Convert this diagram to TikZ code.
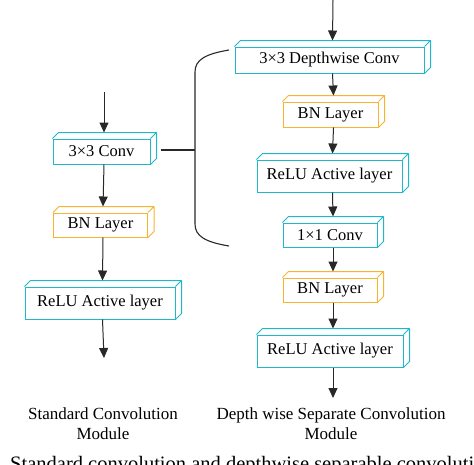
\documentclass[tikz,border=0pt]{standalone}
\usepackage{fontspec}
\setmainfont{Liberation Serif}
\usetikzlibrary{arrows.meta,calc}
\definecolor{convcyan}{RGB}{30,184,202}
\definecolor{bnorange}{RGB}{246,180,48}
\definecolor{linegray}{RGB}{40,40,40}
\tikzset{
	layer/.style={draw=#1, fill=white, line width=1pt, inner sep=0pt,
			minimum height=25pt, font=\fontsize{16.5}{18}\selectfont},
	flow/.style={-{Triangle[length=10pt,width=9pt]}, line width=1pt, draw=linegray},
	caption/.style={align=center, font=\fontsize{17}{20}\selectfont}
}
% top and right faces of a layer box
\newcommand{\boxdepth}[2]{%
	\draw[#2, line width=1pt, line join=round] (#1.north west) -- ++(6,-6)
	-- ($(#1.north east)+(6,-6)$) -- ($(#1.south east)+(6,-6)$) -- (#1.south east)
	(#1.north east) -- ++(6,-6);}

\begin{document}
\begin{tikzpicture}[x=1pt, y=-1pt]
	\useasboundingbox (0,0) rectangle (474,464);

	% Standard convolution module
	\coordinate (inL) at (104,92);
	\node[layer=convcyan, minimum width=97pt] (convL) at (101.5,151.5) {3×3 Conv};
	\node[layer=bnorange, minimum width=94pt, minimum height=24pt] (bnL) at (100.5,225) {BN Layer};
	\node[layer=convcyan, minimum width=150pt, minimum height=32pt] (reluL) at (100,303) {ReLU Active layer};
	\coordinate (outL) at (104,358);
	\boxdepth{convL}{convcyan}
	\boxdepth{bnL}{bnorange}
	\boxdepth{reluL}{convcyan}

	\draw[flow] (inL) -- ([xshift=2.5pt,yshift=6pt]convL.north);
	\draw[flow] ([xshift=2.5pt]convL.south) -- ([xshift=2.5pt,yshift=6pt]bnL.north);
	\draw[flow] ([xshift=2.5pt]bnL.south) -- ([xshift=2.5pt,yshift=6pt]reluL.north);
	\draw[flow] ([xshift=2.5pt]reluL.south) -- (outL);

	% Depth wise separate convolution module
	\coordinate (inR) at (333,0);
	\node[layer=convcyan, minimum width=189pt, minimum height=26pt] (dw) at (329.5,60) {3×3 Depthwise Conv};
	\node[layer=bnorange, minimum width=95pt] (bnR1) at (330.5,114.5) {BN Layer};
	\node[layer=convcyan, minimum width=145pt, minimum height=32pt] (reluR1) at (329.5,176) {ReLU Active layer};
	\node[layer=convcyan, minimum width=94pt, minimum height=24pt] (pw) at (330,235) {1×1 Conv};
	\node[layer=bnorange, minimum width=94pt, minimum height=24pt] (bnR2) at (330,290) {BN Layer};
	\node[layer=convcyan, minimum width=146pt, minimum height=32pt] (reluR2) at (330,351) {ReLU Active layer};
	\coordinate (outR) at (333,398);
	\foreach \n/\c in {dw/convcyan, bnR1/bnorange, reluR1/convcyan, pw/convcyan, bnR2/bnorange, reluR2/convcyan}
		\boxdepth{\n}{\c};

	\draw[flow] (inR) -- ([xshift=3pt,yshift=6pt]dw.north);
	\foreach \a/\b in {dw/bnR1, bnR1/reluR1, reluR1/pw, pw/bnR2, bnR2/reluR2}
		\draw[flow] ([xshift=3pt]\a.south) -- ([xshift=3pt,yshift=6pt]\b.north);
	\draw[flow] ([xshift=3pt]reluR2.south) -- (outR);

	% the brace between both modules
	\coordinate (brtop) at (229,50);
	\coordinate (brbot) at (229,246);
	\coordinate (brmid) at (195,150);
	\coordinate (tail) at (161,150);
	\draw[linegray, line width=1.1pt] (brtop) .. controls (205,54) and (195,60) .. (195,72)
		-- (195,224) .. controls (195,236) and (205,242) .. (brbot);
	\draw[linegray, line width=1.1pt] (tail) -- (brmid);

	% captions
	\node[caption] (capL) at (103,424) {Standard Convolution\\Module};
	\node[caption] (capR) at (331,424) {Depth wise Separate Convolution\\Module};
	\node[anchor=north west, inner sep=0pt, font=\fontsize{20.5}{22}\selectfont] (fig) at (10,456)
		{Standard convolution and depthwise separable convolution};
\end{tikzpicture}
\end{document}
